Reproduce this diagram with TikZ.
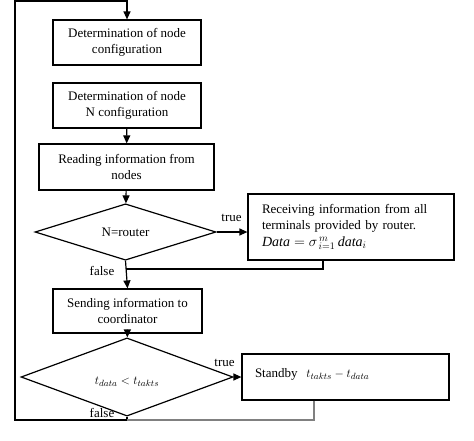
\documentclass[tikz,border=0pt]{standalone}
\usepackage{fontspec}
\setmainfont{Liberation Serif}
\usetikzlibrary{arrows.meta,shapes.geometric}
\tikzset{
  box/.style={draw,line width=1.2pt,inner sep=0pt,align=center,font=\fontsize{13}{16}\selectfont},
  dec/.style={draw,line width=1.2pt,diamond,inner sep=0pt,font=\fontsize{13}{16}\selectfont},
  conn/.style={line width=1.2pt},
  arr/.style={line width=1.2pt,-{Triangle[length=8pt,width=7pt]}},
  lbl/.style={font=\fontsize{13}{16}\selectfont,inner sep=0pt},
}
\begin{document}
\begin{tikzpicture}[x=1pt,y=-1pt]
\useasboundingbox (0,0) rectangle (474,440);
\node[box,minimum width=148pt,minimum height=45pt] (b1) at (127,42.5) {Determination of node\\configuration};
\node[box,minimum width=148pt,minimum height=45pt] (b2) at (127,105.5) {Determination of node\\N configuration};
\node[box,minimum width=175pt,minimum height=46pt] (b3) at (126.5,167) {Reading information from\\nodes};
\node[dec,minimum width=181pt,minimum height=56pt] (d1) at (125.5,232) {N=router};
\node[box,minimum width=206pt,minimum height=66pt,text width=178pt,align=left] (b4) at (351,227)
  {Receiving information from all\\terminals provided by router.\\[1pt]{\fontsize{14}{16}\selectfont$\mathit{Data}=\sigma^{\,m}_{\,i=1}\,\mathit{data}_i$}};
\node[box,minimum width=149pt,minimum height=44pt] (b5) at (127.5,311) {Sending information to\\coordinator};
\node[dec,minimum width=212pt,minimum height=56pt,text height=14pt,text depth=0pt] (d2) at (127,377) {$t_{data}<t_{takts}$};
\node[box,minimum width=207pt,minimum height=46pt,text width=181pt,align=left,text depth=9pt] (b6) at (345.5,377)
  {Standby~~$t_{takts}-t_{data}$};

\coordinate (tl) at (15,1);
\coordinate (bl) at (15,420);
\coordinate (j1) at (323,269);
\coordinate (j2) at (314,420);

\draw[arr] (d2.south) -- (d2.south |- bl) -- (bl) -- (tl) -- (tl -| b1.north) -- (b1.north);
\draw[arr] (b2) -- (b3);
\draw[arr] (b3) -- (d1);
\draw[arr] (d1.east) -- (d1.east -| b4.west);
\draw[arr] (d1.south) -- (b5.north);
\draw[conn] (b4.south -| j1) -- (j1) -- (j1 -| d1.south);
\draw[arr] (b5) -- (d2);
\draw[arr] (d2.east) -- (d2.east -| b6.west);
\draw[conn,gray] (b6.south -| j2) -- (j2) -- (j2 -| d2.south);

\node[lbl] (t1) at (231.5,218) {true};
\node[lbl] (f1) at (102,271) {false};
\node[lbl] (t2) at (224.5,363) {true};
\node[lbl] (f2) at (102,413) {false};
\end{tikzpicture}
\end{document}
